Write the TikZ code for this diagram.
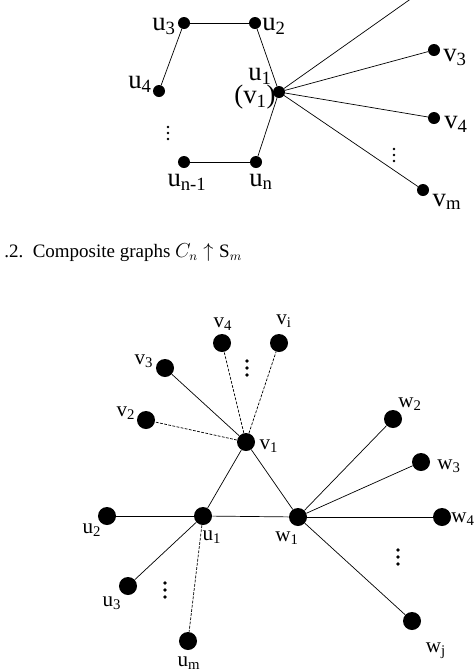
\documentclass[tikz,border=0pt]{standalone}
\usepackage{fontspec}
\setmainfont{Liberation Serif}
\begin{document}
\begin{tikzpicture}[x=0.025cm, y=-0.025cm,
    small/.style={circle, fill=black, inner sep=0pt, minimum size=0.3cm},
    big/.style={circle, fill=black, inner sep=0pt, minimum size=0.45cm},
    lab/.style={inner sep=0pt, font=\fontsize{19}{21}\selectfont},
    blab/.style={inner sep=0pt, font=\fontsize{15}{17}\selectfont},
    edge/.style={draw, line width=0.5pt},
    dashedge/.style={draw, line width=0.5pt, dash pattern=on 2pt off 1pt}]
    \useasboundingbox (0,0) rectangle (474,672);

    % top graph
    \node[small] (tu3) at (184,23) {};
    \node[small] (tu2) at (255,23) {};
    \node[small] (tu4) at (159,91) {};
    \node[small] (tu1) at (279,92) {};
    \node[small] (tun1) at (184,162) {};
    \node[small] (tun) at (256,162) {};
    \node[small] (tv3) at (434,50) {};
    \node[small] (tv4) at (434,118) {};
    \node[small] (tvm) at (423,190) {};
    \coordinate (tvoff) at (412,-2);

    \draw[edge] (tu3) -- (tu2);
    \draw[edge] (tu3) -- (tu4);
    \draw[edge] (tu2) -- (tu1);
    \draw[edge] (tu1) -- (tun);
    \draw[edge] (tun) -- (tun1);
    \draw[edge] (tu1) -- (tvoff);
    \draw[edge] (tu1) -- (tv3);
    \draw[edge] (tu1) -- (tv4);
    \draw[edge] (tu1) -- (tvm);

    \node[lab] (ltu3) at (164,26) {u\textsubscript{3}};
    \node[lab] (ltu2) at (274,26) {u\textsubscript{2}};
    \node[lab] (ltu4) at (140,84) {u\textsubscript{4}};
    \node[lab] (ltu1) at (260,76) {u\textsubscript{1}};
    \node[lab] (ltv1) at (255,97) {(v\textsubscript{1})};
    \node[lab] (ltun1) at (187,182) {u\textsubscript{n-1}};
    \node[lab] (ltun) at (261,182) {u\textsubscript{n}};
    \node[lab] (ltv3) at (455,57) {v\textsubscript{3}};
    \node[lab] (ltv4) at (456,124) {v\textsubscript{4}};
    \node[lab] (ltvm) at (447,202) {v\textsubscript{m}};
    % ellipsis dots
    \foreach \dy in {-6,0,6} {
        \fill (168,133+\dy) circle (1.4);
        \fill (394,155+\dy) circle (1.4);
    }

    % caption
    \node[anchor=base west, inner sep=0pt, font=\fontsize{13.5}{16}\selectfont] (cap) at (4,257)
        {.2.\ \ Composite graphs $C_n \uparrow \mathrm{S}_m$};

    % bottom graph
    \node[big] (v1) at (246,442) {};
    \node[big] (v2) at (146,420) {};
    \node[big] (v3) at (165,368) {};
    \node[big] (v4) at (222,343) {};
    \node[big] (vi) at (279,343) {};
    \node[big] (u1) at (203,516) {};
    \node[big] (u2) at (107,516) {};
    \node[big] (u3) at (128,586) {};
    \node[big] (um) at (188,641) {};
    \node[big] (w1) at (298,517) {};
    \node[big] (w2) at (393,419) {};
    \node[big] (w3) at (421,462) {};
    \node[big] (w4) at (442,517) {};
    \node[big] (wj) at (412,621) {};

    \draw[edge] (v1) -- (v3);
    \draw[dashedge] (v1) -- (v2);
    \draw[dashedge] (v1) -- (v4);
    \draw[dashedge] (v1) -- (vi);
    \draw[edge] (v1) -- (u1);
    \draw[edge] (v1) -- (w1);
    \draw[edge] (u1) -- (w1);
    \draw[edge] (u1) -- (u2);
    \draw[edge] (u1) -- (u3);
    \draw[dashedge] (u1) -- (um);
    \draw[edge] (w1) -- (w2);
    \draw[edge] (w1) -- (w3);
    \draw[edge] (w1) -- (w4);
    \draw[edge] (w1) -- (wj);

    \node[blab] (lv1) at (269,446) {v\textsubscript{1}};
    \node[blab] (lv2) at (126,413) {v\textsubscript{2}};
    \node[blab] (lv3) at (144,361) {v\textsubscript{3}};
    \node[blab] (lv4) at (223,324) {v\textsubscript{4}};
    \node[blab] (lvi) at (284,321) {v\textsubscript{i}};
    \node[blab] (lu1) at (212,537) {u\textsubscript{1}};
    \node[blab] (lu2) at (92,530) {u\textsubscript{2}};
    \node[blab] (lu3) at (112,603) {u\textsubscript{3}};
    \node[blab] (lum) at (189,663) {u\textsubscript{m}};
    \node[blab] (lw1) at (287,538) {w\textsubscript{1}};
    \node[blab] (lw2) at (410,404) {w\textsubscript{2}};
    \node[blab] (lw3) at (449,466) {w\textsubscript{3}};
    \node[blab] (lw4) at (463,519) {w\textsubscript{4}};
    \node[blab] (lwj) at (436,651) {w\textsubscript{j}};
    % bold ellipsis dots
    \foreach \dy in {-7,0,7} {
        \fill (247,368+\dy) circle (1.8);
        \fill (165,590+\dy) circle (1.8);
        \fill (398,557+\dy) circle (1.8);
    }
\end{tikzpicture}
\end{document}
